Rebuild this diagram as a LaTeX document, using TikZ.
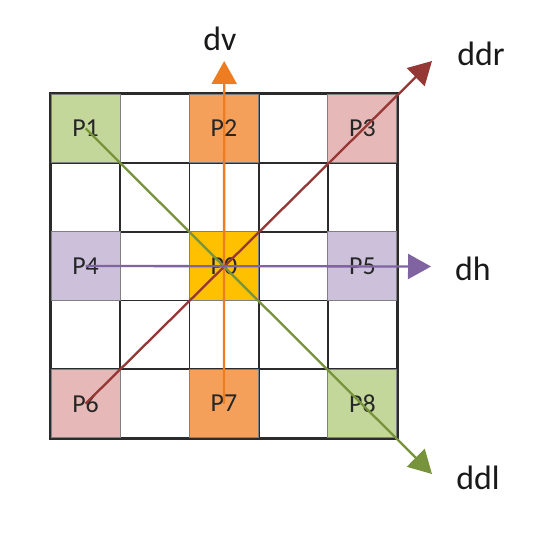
\documentclass[tikz,border=0pt]{standalone}
\usepackage{fontspec}
\setmainfont{Carlito}
\usetikzlibrary{arrows.meta}
\definecolor{cgreen}{HTML}{C4D79B}
\definecolor{corange}{HTML}{F5A05A}
\definecolor{cpink}{HTML}{E6B8B7}
\definecolor{cpurple}{HTML}{CCC0DA}
\definecolor{cyellow}{HTML}{FFC000}
\definecolor{lorange}{HTML}{EE7D22}
\definecolor{lred}{HTML}{953735}
\definecolor{lpurple}{HTML}{8064A2}
\definecolor{lgreen}{HTML}{77933C}
\definecolor{gridc}{HTML}{2B2B2B}
\tikzset{
  cellbox/.style={draw=gridc, line width=1.8bp, minimum width=69.2bp, minimum height=68.8bp, inner sep=0pt, font=\fontsize{26}{26}\selectfont, text=black!85},
  colbox/.style={cellbox, draw=black!50, line width=1.2bp},
  conn/.style={line width=2.3bp, -{Triangle[length=23bp,width=25bp]}},
  dirlabel/.style={font=\fontsize{34}{34}\selectfont, text=black!90}
}
\begin{document}
\begin{tikzpicture}[x=1bp,y=-1bp]
\useasboundingbox (0,0) rectangle (547,536);
% white cells
\foreach \c in {0,...,4}{
  \foreach \r in {0,...,4}{
    \node[cellbox, fill=white] (w\c\r) at ({51+69.2*(\c+0.5)},{94+68.8*(\r+0.5)}) {};
  }
}
% coloured cells
\node[colbox, fill=cgreen]  (P1) at ({51+69.2*0.5},{94+68.8*0.5}) {P1};
\node[colbox, fill=corange] (P2) at ({51+69.2*2.5},{94+68.8*0.5}) {P2};
\node[colbox, fill=cpink]   (P3) at ({51+69.2*4.5},{94+68.8*0.5}) {P3};
\node[colbox, fill=cpurple] (P4) at ({51+69.2*0.5},{94+68.8*2.5}) {P4};
\node[colbox, fill=cyellow] (P0) at ({51+69.2*2.5},{94+68.8*2.5}) {P0};
\node[colbox, fill=cpurple] (P5) at ({51+69.2*4.5},{94+68.8*2.5}) {P5};
\node[colbox, fill=cpink]   (P6) at ({51+69.2*0.5},{94+68.8*4.5}) {P6};
\node[colbox, fill=corange] (P7) at ({51+69.2*2.5},{94+68.8*4.5}) {P7};
\node[colbox, fill=cgreen]  (P8) at ({51+69.2*4.5},{94+68.8*4.5}) {P8};
% outer frame
\draw[gridc, line width=1.8bp] (w00.north west) rectangle (w44.south east);
% tips
\coordinate (tv) at (224.2,61);
\coordinate (th) at (431,266.5);
\coordinate (tr) at (432,61);
\coordinate (tl) at (432,474);
\draw[conn, lorange] (P7.center) -- (tv);
\draw[conn, lred] (P6.center) -- (tr);
\draw[conn, lgreen] (P1.center) -- (tl);
\draw[conn, lpurple] (P4.center) -- (th);
\node[dirlabel] (dv) at (220,39) {dv};
\node[dirlabel] (ddr) at (481,54) {ddr};
\node[dirlabel] (dh) at (473,269) {dh};
\node[dirlabel] (ddl) at (478,478) {ddl};
\end{tikzpicture}
\end{document}
